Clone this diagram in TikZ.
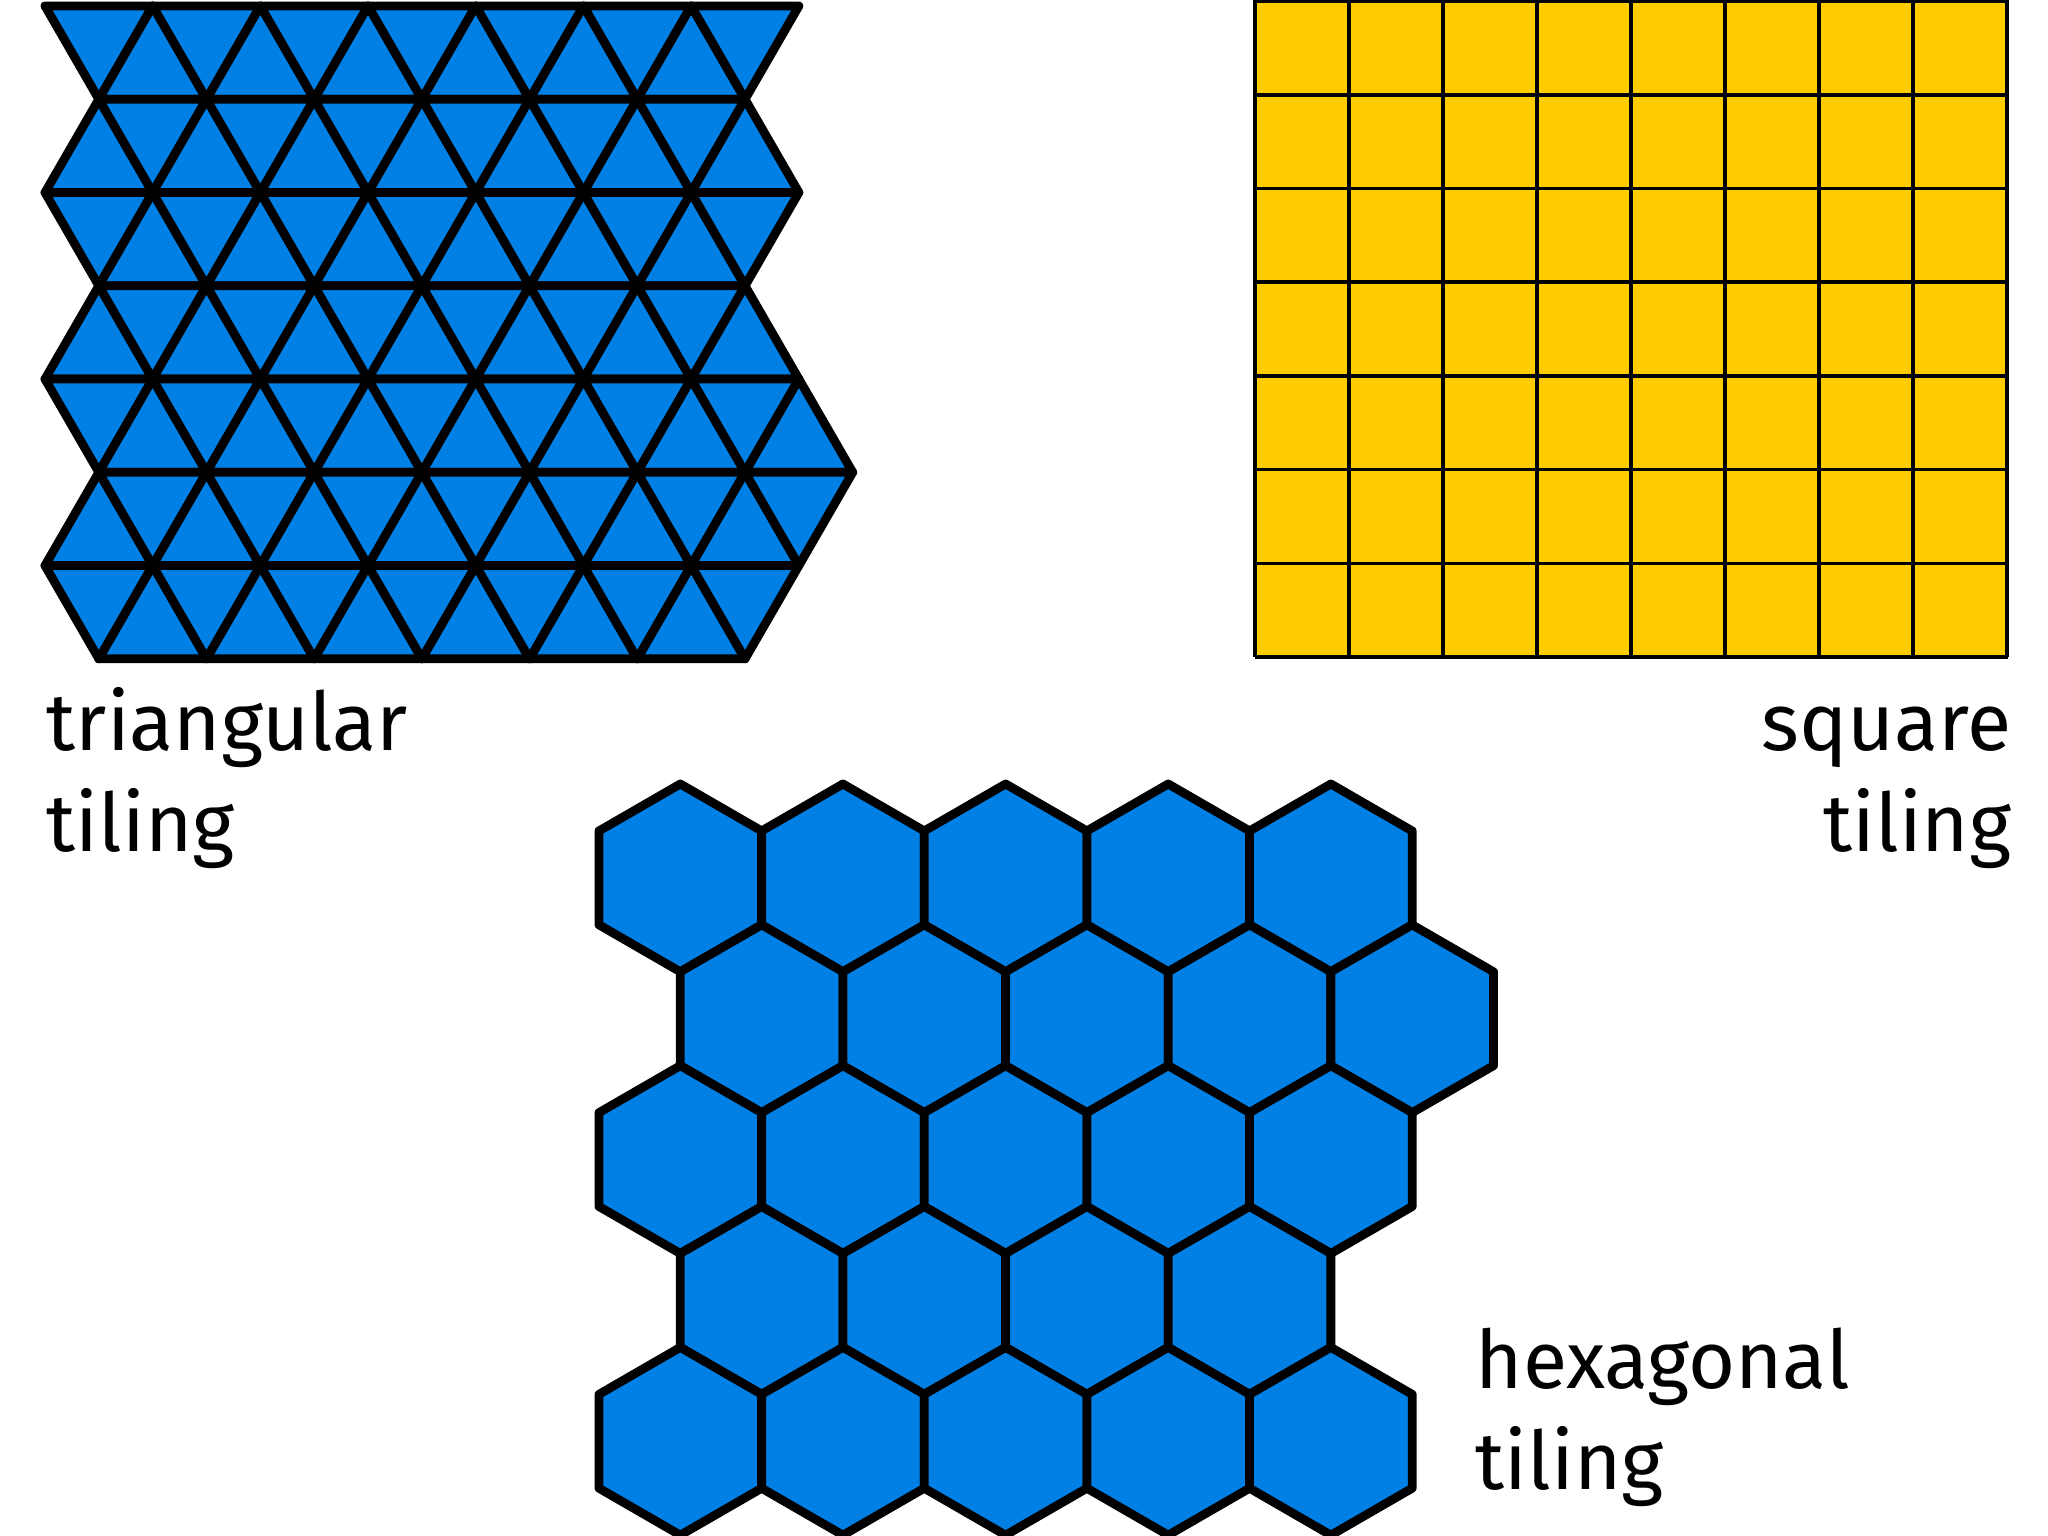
\documentclass[tikz,border=0pt]{standalone}
\usepackage{fontspec}
\setmainfont{Fira Sans}
\usepackage{tikz}
\usetikzlibrary{positioning}
\definecolor{kachelblau}{RGB}{0,128,228}
\definecolor{kachelgelb}{RGB}{255,204,0}

\begin{document}
\begin{tikzpicture}[
  kachel/.style={draw=black,line width=2.5pt,line join=round,fill=kachelblau},
  gitter/.style={draw=black,line width=1pt},
  beschriftung/.style={inner sep=0pt,font=\fontsize{23}{29}\selectfont}
]
\useasboundingbox (0,0) rectangle (20.48,15.36);
%Dreiecksparkett: Seite s, Zeilenhoehe h=s*sqrt(3/4)
%Reihe 4 und 5 haben rechts ein Dreieck mehr
  \pgfmathsetmacro{\sWert}{1.077}
  \pgfmathsetmacro{\hWert}{\sWert*sqrt(0.75)}
  \pgfmathsetmacro{\xD}{0.45}
  \pgfmathsetmacro{\yD}{15.30}
\foreach \zeile/\kmax in {0/12,1/12,2/12,3/12,4/13,5/13,6/12}{
\foreach \spalte in {0,...,\kmax}{
  \pgfmathtruncatemacro{\oben}{mod(\spalte+\zeile,2)}
  \draw[kachel] (\xD+\spalte*\sWert/2,\yD-\zeile*\hWert-\oben*\hWert) -- ++(\sWert,0) -- (\xD+\spalte*\sWert/2+\sWert/2,\yD-\zeile*\hWert-\hWert+\oben*\hWert) -- cycle;
}}
%Quadratparkett 8x7
  \pgfmathsetmacro{\qx}{0.94}
  \pgfmathsetmacro{\qy}{0.937}
\fill[kachelgelb] (12.55,8.79) rectangle ++(8*\qx,7*\qy);
\draw[gitter,xstep=\qx,ystep=\qy,shift={(12.55,8.79)}] (0,0) grid (8*\qx+0.01,7*\qy+0.01);
%Sechseckparkett: Seite a, Breite a*sqrt(3), Zeilenabstand 1.5*a
  \pgfmathsetmacro{\aSechs}{0.939}
  \pgfmathsetmacro{\bSechs}{\aSechs*sqrt(3)}
\foreach \zeile/\n/\versatz in {0/4/0,1/4/1,2/4/0,3/3/1,4/4/0}{
\foreach \spalte in {0,...,\n}{
  \draw[kachel] (5.99+\bSechs/2+\versatz*\bSechs/2+\spalte*\bSechs,7.52-\aSechs-\zeile*1.5*\aSechs) +(30:\aSechs) -- +(90:\aSechs) -- +(150:\aSechs) -- +(210:\aSechs) -- +(270:\aSechs) -- +(330:\aSechs) -- cycle;
}}
%Anker base = Grundlinie der letzten Zeile
\node[beschriftung,align=left,anchor=base west] (dreieckText) at (0.46,6.84) {triangular\\tiling};
\node[beschriftung,align=right,anchor=base east] (quadratText) at (20.12,6.84) {square\\tiling};
\node[beschriftung,align=left,anchor=base west] (sechseckText) at (14.75,0.46) {hexagonal\\tiling};
\end{tikzpicture}
\end{document}
